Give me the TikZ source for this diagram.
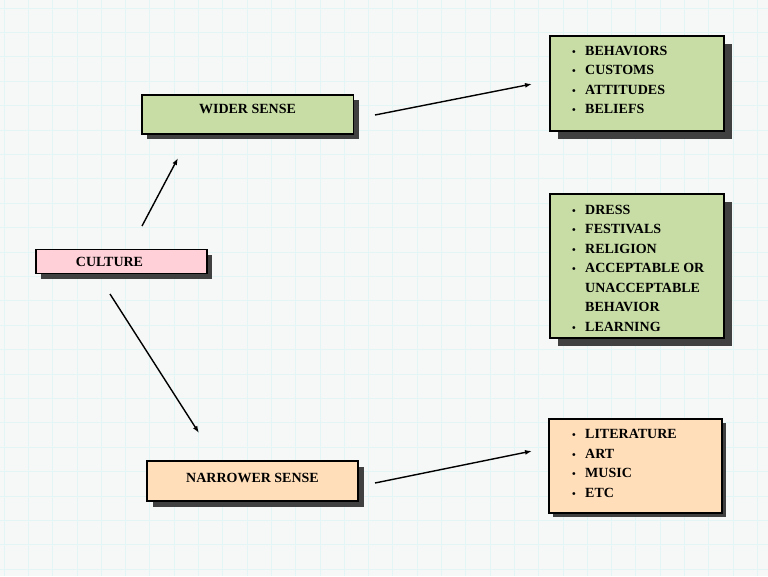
\documentclass[tikz,border=0pt]{standalone}
\usepackage{fontspec}
\setmainfont{Liberation Serif}
\usetikzlibrary{arrows.meta,shadows}
\definecolor{boxgreen}{RGB}{200,221,166}
\definecolor{boxpink}{RGB}{255,208,216}
\definecolor{boxpeach}{RGB}{255,222,185}
\definecolor{paper}{RGB}{246,247,247}
\definecolor{gridcyan}{RGB}{228,245,245}
\newcommand{\bul}{\makebox[13pt][l]{\raisebox{0.2pt}{\scalebox{0.75}{\textbullet}}}}
\newcommand{\cont}{\hspace*{13pt}}
\begin{document}
\begin{tikzpicture}[x=1pt, y=-1pt,
    gridline/.style={gridcyan, line width=0.8pt},
    dropsh/.style={drop shadow={shadow xshift=#1, shadow yshift=-#1, fill=black!75, opacity=1}},
    box/.style={draw, line width=1.2pt, inner sep=0pt},
    lbl/.style={inner sep=0pt, font=\fontsize{14}{19.5}\selectfont\bfseries},
    items/.style={lbl, align=left, anchor=north west},
    arr/.style={line width=1.4pt, -{Latex[length=7pt,width=5pt]}}
    ]
    \useasboundingbox (0,0) rectangle (768,576);
    \fill[paper] (0,0) rectangle (768,576);
    \foreach \i in {0,...,31} {
        \draw[gridline] (4+24.3*\i,0) -- (4+24.3*\i,576);
    }
    \foreach \i in {0,...,23} {
        \draw[gridline] (0,8+24.4*\i) -- (768,8+24.4*\i);
    }

    \node[box, dropsh=5pt, fill=boxpink, minimum width=171pt, minimum height=24pt] (cul) at (121.5,261.75) {};
    \node[box, dropsh=5pt, fill=boxgreen, minimum width=211.5pt, minimum height=39pt] (wid) at (247.75,114.5) {};
    \node[box, dropsh=6pt, fill=boxpeach, minimum width=211pt, minimum height=40pt] (nar) at (252.5,481) {};
    \node[box, dropsh=8pt, fill=boxgreen, minimum width=174pt, minimum height=95pt] (lsta) at (637,83.5) {};
    \node[box, dropsh=8pt, fill=boxgreen, minimum width=174pt, minimum height=144pt] (lstb) at (637,266) {};
    \node[box, dropsh=4pt, fill=boxpeach, minimum width=173pt, minimum height=94pt] (lstc) at (635.5,466) {};

    \node[lbl] (tcul) at (109.5,261.5) {CULTURE};
    \node[lbl] (twid) at (247.5,109) {WIDER SENSE};
    \node[lbl] (tnar) at (252.5,477.5) {NARROWER SENSE};

    \node[items] (ia) at (572,46) {\bul BEHAVIORS\\ \bul CUSTOMS\\ \bul ATTITUDES\\ \bul BELIEFS};
    \node[items] (ib) at (572,205) {\bul DRESS\\ \bul FESTIVALS\\ \bul RELIGION\\ \bul ACCEPTABLE OR\\ \cont UNACCEPTABLE\\ \cont BEHAVIOR\\ \bul LEARNING};
    \node[items] (ic) at (572,429.5) {\bul LITERATURE\\ \bul ART\\ \bul MUSIC\\ \bul ETC};

    \coordinate (s1) at (142,226);
    \coordinate (e1) at (178,158);
    \coordinate (s2) at (110,294);
    \coordinate (e2) at (199,433);
    \coordinate (s3) at (375,115);
    \coordinate (e3) at (532,84);
    \coordinate (s4) at (375,483);
    \coordinate (e4) at (532,451);

    \draw[arr] (s1) -- (e1);
    \draw[arr] (s2) -- (e2);
    \draw[arr] (s3) -- (e3);
    \draw[arr] (s4) -- (e4);

\end{tikzpicture}
\end{document}
